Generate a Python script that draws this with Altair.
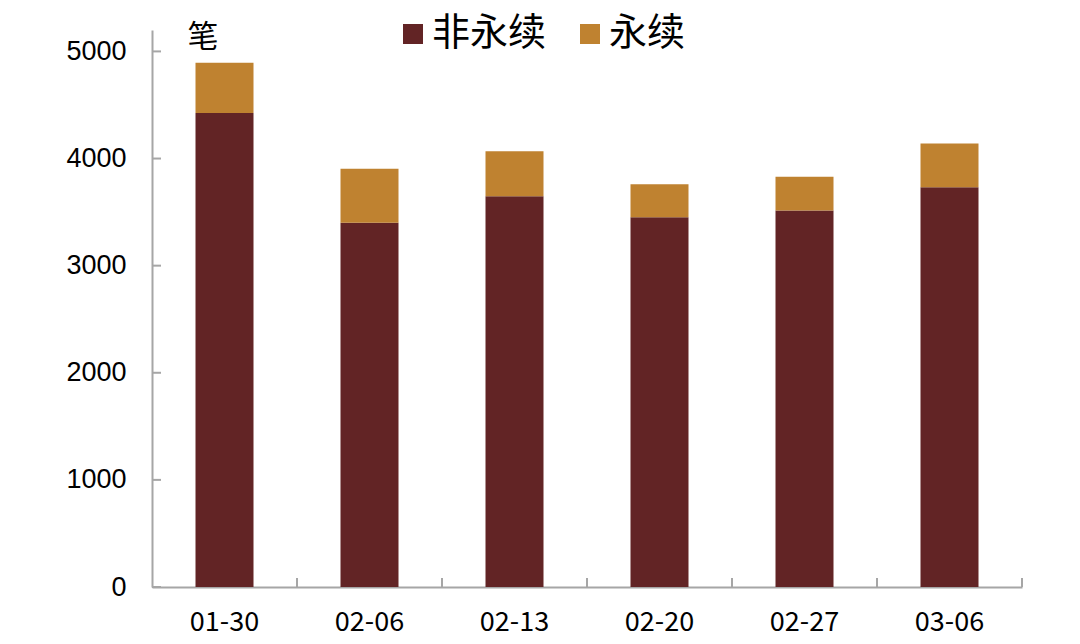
import pandas as pd
import altair as alt

dates = ["01-30", "02-06", "02-13", "02-20", "02-27", "03-06"]
non_perpetual = [4424, 3401, 3649, 3453, 3516, 3733]
perpetual = [471, 504, 420, 308, 314, 408]
y_ticks = [0, 1000, 2000, 3000, 4000, 5000]

series_names = ["非永续", "永续"]
series_colors = ["#622425", "#BF8230"]

rows = []
for d, a, b in zip(dates, non_perpetual, perpetual):
    rows.append({"date": d, "kind": "非永续", "value": a, "o": 0})
    rows.append({"date": d, "kind": "永续", "value": b, "o": 1})
df = pd.DataFrame(rows)

W, H = 870, 557
axis_gray = "#A6A6A6"

x_scale = alt.Scale(domain=dates, paddingInner=0, paddingOuter=0)
y_scale = alt.Scale(domain=[0, 5200], nice=False)

bars = (
    alt.Chart(df)
    .mark_bar(width=alt.RelativeBandSize(0.4))
    .encode(
        x=alt.X(
            "date:N",
            scale=x_scale,
            sort=dates,
            axis=alt.Axis(
                title=None,
                labelAngle=0,
                ticks=False,
                tickSize=0,
                labelPadding=22,
                labelFont="Noto Sans CJK SC",
                labelFontSize=27,
                labelColor="#000000",
                domainColor=axis_gray,
                domainWidth=2,
                grid=False,
            ),
        ),
        y=alt.Y(
            "value:Q",
            stack="zero",
            scale=y_scale,
            axis=alt.Axis(
                title="笔",
                titleAngle=0,
                titleAlign="left",
                titleBaseline="top",
                titleX=35,
                titleY=-8,
                titleFont="Noto Sans CJK SC",
                titleFontSize=31,
                titleFontWeight="normal",
                titleColor="#000000",
                values=y_ticks,
                format="d",
                ticks=False,
                tickSize=0,
                labelPadding=26,
                labelFont="Liberation Sans",
                labelFontSize=27,
                labelColor="#000000",
                domainColor=axis_gray,
                domainWidth=2,
                grid=False,
            ),
        ),
        color=alt.Color(
            "kind:N",
            scale=alt.Scale(domain=series_names, range=series_colors),
            legend=alt.Legend(
                title=None,
                orient="none",
                direction="horizontal",
                legendX=242,
                legendY=-15,
                symbolType="square",
                symbolSize=400,
                symbolStrokeWidth=0,
                labelFont="Noto Sans CJK SC",
                labelFontSize=38,
                labelColor="#000000",
                labelOffset=0,
                columnPadding=24,
            ),
        ),
        order=alt.Order("o:Q", sort="ascending"),
    )
)

# inward ticks drawn as short rules
ytick_df = pd.DataFrame({"v": y_ticks})
yticks = (
    alt.Chart(ytick_df)
    .mark_rule(color=axis_gray, strokeWidth=2)
    .encode(y=alt.Y("v:Q", scale=y_scale), x=alt.value(0), x2=alt.value(9))
)

xtick_df = pd.DataFrame({"date": dates})
xticks = (
    alt.Chart(xtick_df)
    .mark_rule(color=axis_gray, strokeWidth=2)
    .encode(
        x=alt.X("date:N", scale=x_scale, sort=dates, bandPosition=1),
        y=alt.value(H - 9),
        y2=alt.value(H),
    )
)

chart = (
    alt.layer(bars, yticks, xticks)
    .properties(
        width=W,
        height=H,
        background="#ffffff",
        autosize=alt.AutoSizeParams(type="none"),
        padding={"left": 144, "top": 22, "right": 50, "bottom": 50},
    )
    .configure_view(strokeWidth=0, stroke="transparent")
)

chart.save("out.html", embed_options={"renderer": "svg", "actions": False})
